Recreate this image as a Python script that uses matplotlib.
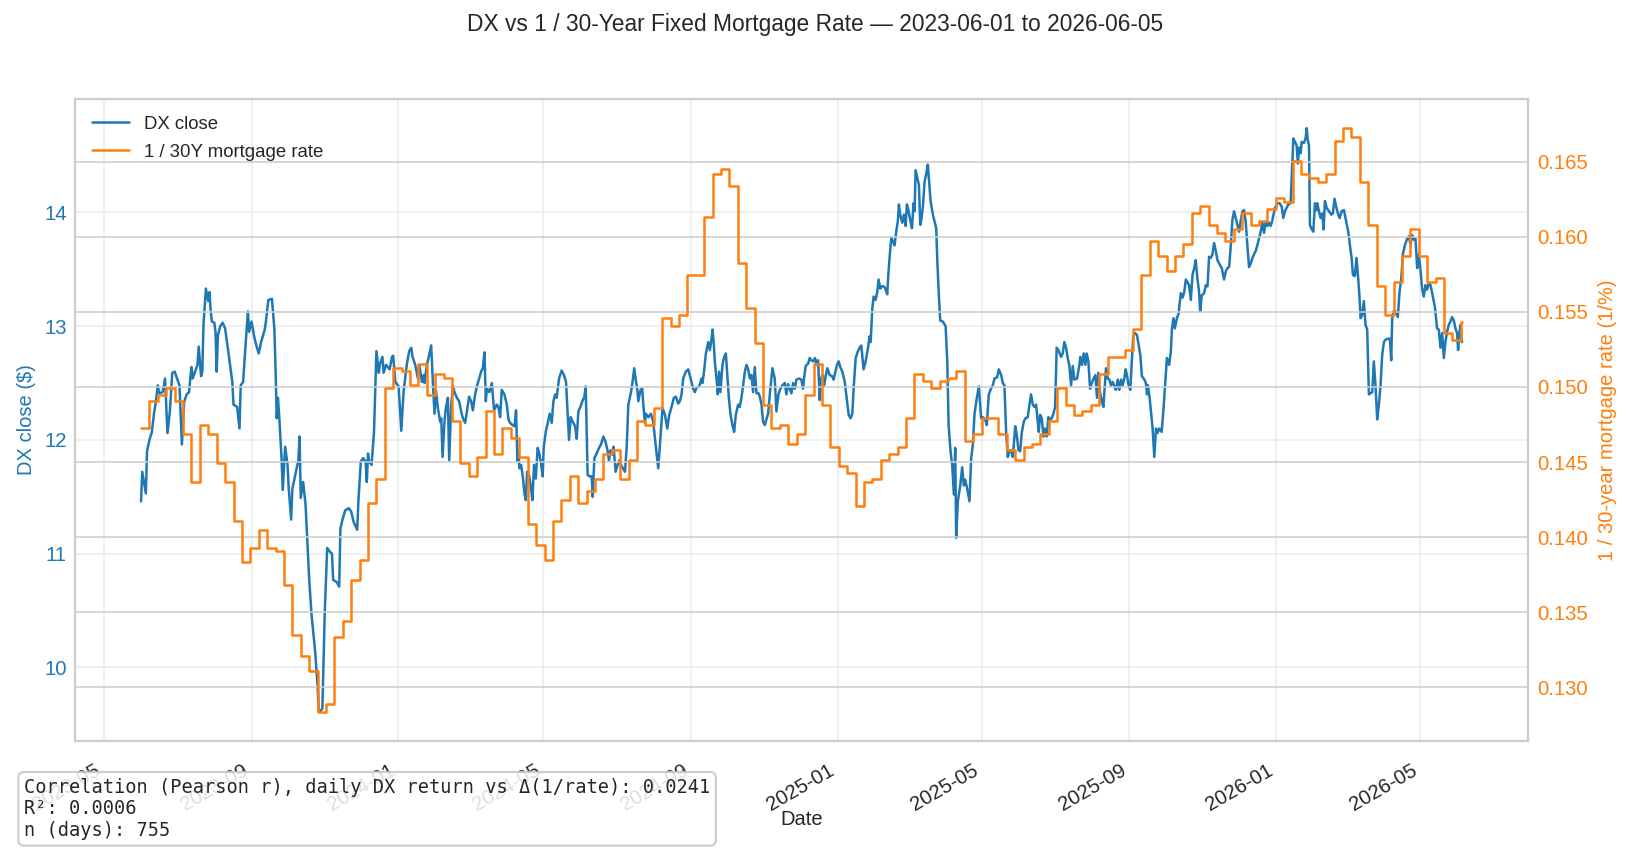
import numpy as np
import pandas as pd
import matplotlib
matplotlib.use("Agg")
import matplotlib.pyplot as plt
import matplotlib.dates as mdates
from matplotlib.ticker import MultipleLocator, FormatStrFormatter
import seaborn as sns

sns.set_theme(style="whitegrid")
plt.rcParams["font.family"] = ["Liberation Sans", "DejaVu Sans"]

START = pd.Timestamp("2023-06-01")
END = pd.Timestamp("2026-06-05")

# ---- DX close: (calendar days since 2023-06-01, close $) ----
dx_seg_a = [
    (0, 11.46), (1, 11.72), (4, 11.53), (5, 11.90), (7, 12.00), (9, 12.07), (11, 12.25), (12, 12.31), (14, 12.48), (15, 12.41),
    (18, 12.42), (20, 12.54), (22, 12.06), (24, 12.25), (26, 12.59), (28, 12.60), (30, 12.54), (32, 12.48), (34, 11.96), (36, 12.34),
    (38, 12.40), (40, 12.42), (41, 12.54), (42, 12.64), (43, 12.54), (45, 12.60), (47, 12.66), (48, 12.82), (50, 12.56), (51, 12.60),
    (52, 13.01), (54, 13.33), (56, 13.22), (57, 13.30), (58, 13.13), (59, 13.04), (61, 13.03), (62, 12.95), (63, 12.60), (64, 12.92),
    (66, 13.00), (68, 13.03), (70, 12.98), (73, 12.75), (76, 12.51), (77, 12.31), (80, 12.29), (82, 12.10), (83, 12.48), (85, 12.51),
    (87, 12.83), (89, 13.13), (90, 12.95), (92, 13.04), (94, 12.92), (96, 12.83), (98, 12.76), (100, 12.86), (103, 12.97), (104, 13.04),
    (106, 13.23), (109, 13.24), (111, 12.98), (112, 12.63), (113, 12.19), (114, 12.37), (115, 12.22), (117, 11.84), (118, 11.56), (120, 11.94),
    (122, 11.78), (123, 11.57), (125, 11.30), (126, 11.57), (129, 11.72), (131, 11.82), (132, 12.03), (133, 11.49), (135, 11.63), (137, 11.43),
    (140, 10.78), (142, 10.46), (145, 10.14), (147, 9.84), (148, 9.61), (149, 9.61), (151, 9.64), (153, 10.49), (155, 11.05), (157, 11.02),
    (159, 11.00), (160, 10.77), (163, 10.75), (165, 10.71), (166, 11.22), (168, 11.31), (170, 11.38), (173, 11.40), (175, 11.37), (177, 11.28),
    (180, 11.21), (181, 11.46), (183, 11.81), (185, 11.84), (187, 11.81), (188, 11.63), (189, 11.88), (190, 11.81), (192, 11.78), (194, 12.07),
    (196, 12.78), (198, 12.59), (199, 12.67), (201, 12.73), (202, 12.59), (204, 12.66), (207, 12.62), (209, 12.73), (210, 12.74),
]
dx_seg_b = [
    (211.7, 12.51), (214.5, 12.47), (216.7, 12.08), (218.6, 12.42), (221.4, 12.67), (223.3, 12.78), (225.0, 12.81), (226.1, 12.73), (228.3, 12.66), (230.6, 12.54),
    (231.7, 12.66), (233.9, 12.51), (235.3, 12.57), (236.1, 12.50), (238.0, 12.66), (239.4, 12.72), (241.6, 12.83), (243.0, 12.51), (244.4, 12.23), (245.5, 12.44),
    (247.2, 12.28), (249.1, 12.16), (250.0, 12.19), (251.1, 11.85), (252.7, 12.16), (253.8, 12.28), (255.5, 12.37), (256.6, 11.82), (258.3, 12.31), (259.7, 12.48),
    (261.0, 12.42), (263.0, 12.37), (264.9, 12.34), (266.6, 12.25), (268.0, 12.19), (269.9, 12.15), (271.3, 12.25), (273.2, 12.38), (274.9, 12.34), (276.3, 12.26),
    (278.2, 12.40), (279.9, 12.48), (281.6, 12.54), (283.2, 12.60), (284.6, 12.63), (286.0, 12.77), (287.1, 12.34), (288.0, 12.45), (290.1, 12.42), (292.1, 12.50),
    (294.0, 12.26), (296.2, 12.31), (297.6, 12.29), (299.0, 12.20), (300.4, 12.44), (302.6, 12.40), (304.6, 12.31), (306.0, 12.18), (307.3, 12.15), (309.3, 12.13),
    (311.0, 12.12), (312.3, 12.26), (313.4, 11.81), (314.3, 11.91), (315.1, 11.75), (316.5, 11.78), (317.9, 11.68), (319.3, 11.53), (320.4, 11.47), (321.5, 11.72),
    (323.1, 11.69), (324.5, 11.60), (325.9, 11.47), (327.3, 11.78), (328.7, 11.66), (330.3, 11.93), (331.7, 11.88), (333.1, 11.79), (334.5, 11.68), (335.3, 11.93),
    (337.0, 12.07), (338.7, 12.15), (340.3, 12.23), (342.0, 12.15), (343.4, 12.34), (344.8, 12.40), (346.1, 12.37), (348.1, 12.54), (350.3, 12.61), (352.2, 12.57),
    (353.9, 12.51), (355.3, 12.22), (356.4, 12.00), (357.8, 12.20), (359.5, 12.16), (361.4, 12.12), (362.8, 12.01), (364.2, 12.25), (365.8, 12.29), (367.5, 12.34),
    (369.2, 12.38), (370.3, 12.47), (371.1, 12.07), (371.9, 11.69), (373.9, 11.68), (375.3, 11.68), (376.1, 11.50), (377.5, 11.84), (379.4, 11.88), (381.4, 11.93),
    (383.0, 11.96), (385.0, 12.03), (386.9, 11.98), (388.6, 11.90), (389.7, 11.82), (391.1, 11.91), (392.4, 11.87), (393.5, 11.94), (395.2, 11.72), (396.9, 11.78),
    (398.3, 11.82), (399.6, 11.78), (400.8, 11.76), (403.0, 11.72), (404.4, 11.93), (405.8, 12.31), (408.0, 12.42), (409.3, 12.51), (410.7, 12.63), (411.8, 12.54),
    (413.2, 12.45), (414.1, 12.34), (416.0, 12.44), (417.4, 12.45), (418.2, 12.32), (419.6, 12.15), (420.4, 12.23), (422.4, 12.20), (424.6, 12.23), (426.5, 12.16),
    (428.5, 11.96), (430.7, 11.75),
]
dx_seg_c = [
    (434.3, 12.28), (436.3, 12.22), (438.2, 12.10), (439.9, 12.22), (441.8, 12.29), (443.7, 12.37), (445.4, 12.38), (447.3, 12.32), (448.7, 12.34), (450.1, 12.40),
    (451.5, 12.54), (453.7, 12.60), (455.7, 12.62), (457.6, 12.54), (459.8, 12.45), (461.2, 12.42), (462.6, 12.46), (464.8, 12.47), (466.8, 12.54), (467.6, 12.50),
    (468.7, 12.59), (470.4, 12.76), (472.3, 12.86), (473.7, 12.79), (475.1, 12.89), (475.9, 12.97), (477.0, 12.84), (477.8, 12.69), (479.2, 12.54), (480.3, 12.40),
    (481.4, 12.60), (482.5, 12.42), (484.2, 12.66), (485.3, 12.72), (487.0, 12.76), (488.4, 12.54), (489.5, 12.37), (490.9, 12.22), (492.5, 12.13), (493.9, 12.07),
    (495.3, 12.22), (497.2, 12.31), (498.6, 12.29), (500.0, 12.37), (501.4, 12.48), (502.8, 12.60), (504.2, 12.66), (505.6, 12.62), (507.0, 12.54), (508.3, 12.57),
    (509.7, 12.42), (511.1, 12.64), (512.5, 12.41), (514.2, 12.41), (515.3, 12.38), (516.7, 12.31), (518.0, 12.16), (519.4, 12.13), (520.8, 12.18), (522.2, 12.23),
    (523.6, 12.40), (525.8, 12.63), (527.7, 12.54), (529.1, 12.25), (530.8, 12.40), (532.4, 12.45), (534.1, 12.48), (536.1, 12.50), (537.4, 12.40), (538.8, 12.49),
    (540.2, 12.45), (541.6, 12.41), (543.0, 12.50), (544.4, 12.45), (545.8, 12.53), (548.0, 12.54), (549.9, 12.53), (551.3, 12.45), (552.1, 12.54), (553.5, 12.65),
    (555.5, 12.67), (556.8, 12.72), (558.2, 12.70), (559.6, 12.69), (561.3, 12.72), (562.4, 12.66), (563.8, 12.70), (565.2, 12.35), (566.0, 12.53), (567.4, 12.57),
    (568.8, 12.48), (570.1, 12.56), (571.5, 12.63), (573.5, 12.57), (575.4, 12.56), (576.8, 12.53), (578.2, 12.60), (579.6, 12.66), (581.0, 12.69), (582.3, 12.64),
    (584.0, 12.60), (586.0, 12.51), (587.9, 12.34), (589.3, 12.22), (590.9, 12.19), (592.3, 12.23), (593.4, 12.45), (595.1, 12.72), (597.0, 12.78), (598.4, 12.81),
    (599.8, 12.83), (601.7, 12.62), (603.4, 12.69), (605.4, 12.81), (606.7, 12.91), (607.6, 12.86), (609.0, 13.16), (610.1, 13.26), (611.7, 13.23), (613.1, 13.30),
    (614.2, 13.41), (615.6, 13.33), (616.7, 13.35), (618.4, 13.35), (619.8, 13.33), (621.4, 13.28), (622.3, 13.45), (623.4, 13.61), (624.8, 13.78), (626.2, 13.74),
    (627.5, 13.71), (628.9, 13.83), (630.3, 13.93), (631.1, 14.07), (632.2, 13.98), (633.9, 13.91), (635.3, 13.98), (636.7, 13.88), (637.8, 14.07), (639.2, 14.01),
    (640.6, 13.93), (642.0, 13.86), (643.3, 14.08), (644.2, 14.01), (645.0, 14.37), (646.1, 14.32), (647.8, 14.24), (648.9, 13.89), (650.0, 13.95), (651.1, 14.05),
    (652.5, 14.27), (653.9, 14.34), (655.2, 14.42),
]
dx_seg_d = [
    (657.5, 14.10), (659.4, 13.98), (662.2, 13.86), (663.0, 13.60), (664.1, 13.33), (665.5, 13.05), (667.7, 13.04), (670.0, 13.00), (671.4, 12.69), (672.5, 12.13),
    (674.1, 11.90), (675.5, 11.78), (676.9, 11.52), (678.0, 11.93), (678.8, 11.14), (680.2, 11.46), (682.2, 11.60), (683.8, 11.76), (685.2, 11.60), (686.3, 11.65),
    (688.0, 11.57), (689.9, 11.46), (691.3, 11.84), (692.7, 11.96), (694.1, 12.23), (696.0, 12.37), (697.7, 12.47), (699.6, 12.19), (701.0, 12.20), (703.0, 12.18),
    (704.3, 12.13), (706.0, 12.40), (707.4, 12.44), (709.3, 12.48), (710.7, 12.54), (712.9, 12.55), (714.3, 12.62), (716.3, 12.57), (717.6, 12.50), (719.0, 12.48),
    (720.4, 12.07), (721.8, 11.85), (723.2, 11.90), (724.6, 11.91), (726.0, 11.85), (728.0, 12.12), (729.3, 12.04), (730.7, 11.91), (732.1, 11.90), (733.4, 12.06),
    (735.1, 12.16), (736.5, 12.19), (738.4, 12.20), (739.8, 12.31), (741.2, 12.40), (742.6, 12.31), (744.0, 12.29), (745.4, 12.31), (746.7, 12.16), (747.6, 12.07),
    (748.7, 12.22), (750.1, 12.19), (751.5, 12.03), (752.8, 12.10), (754.2, 12.03), (755.6, 12.20), (757.3, 12.18), (758.4, 12.19), (759.8, 12.23), (761.2, 12.29),
    (762.5, 12.81), (763.9, 12.79), (766.2, 12.73), (767.5, 12.76), (768.9, 12.86), (770.3, 12.81), (771.7, 12.72), (773.1, 12.65), (774.5, 12.48), (775.9, 12.65),
    (777.2, 12.53), (779.5, 12.54), (781.4, 12.66), (782.2, 12.73), (783.6, 12.66), (785.0, 12.76), (786.4, 12.66), (787.5, 12.76), (788.9, 12.69), (790.3, 12.45),
    (791.7, 12.50), (793.3, 12.54), (794.7, 12.57), (796.1, 12.37), (797.2, 12.59), (798.6, 12.42), (800.0, 12.34), (801.4, 12.29), (802.2, 12.42), (803.6, 12.63),
    (805.0, 12.54), (806.4, 12.53), (807.7, 12.48), (809.1, 12.51), (810.5, 12.47), (811.9, 12.44), (813.3, 12.53), (814.7, 12.44), (816.1, 12.53), (817.4, 12.48),
    (818.8, 12.54), (819.9, 12.62), (821.0, 12.57), (822.4, 12.48), (823.8, 12.44), (824.9, 12.66), (826.3, 12.92), (827.7, 12.94), (829.4, 12.92), (830.7, 12.84),
    (832.1, 12.75), (833.5, 12.56), (835.5, 12.53), (836.8, 12.50), (837.7, 12.40), (838.5, 12.48), (839.9, 12.37), (841.0, 12.25), (842.4, 12.10), (843.8, 11.85),
    (845.2, 12.10), (846.5, 12.06), (847.9, 12.10), (849.9, 12.07), (851.3, 12.25), (852.6, 12.45), (854.3, 12.72), (856.2, 12.66), (857.6, 12.78), (858.5, 12.98),
    (859.8, 13.07), (860.9, 12.98), (862.6, 13.07), (864.0, 13.11), (865.9, 13.29), (867.3, 13.25), (868.7, 13.30), (870.1, 13.41),
]
dx_seg_e = [
    (872.8, 13.36), (874.2, 13.23), (875.6, 13.45), (877.0, 13.51), (878.3, 13.58), (879.7, 13.42), (881.1, 13.30), (882.0, 13.13), (883.3, 13.27), (885.3, 13.29),
    (886.7, 13.36), (888.1, 13.35), (889.4, 13.61), (890.8, 13.60), (892.2, 13.63), (893.6, 13.73), (895.0, 13.66), (896.4, 13.58), (898.3, 13.54), (900.0, 13.51),
    (901.9, 13.41), (903.3, 13.48), (904.7, 13.51), (906.1, 13.52), (907.5, 13.71), (908.8, 13.93), (910.2, 14.01), (911.6, 13.95), (913.0, 13.89), (914.4, 13.83),
    (915.8, 13.93), (917.2, 14.01), (918.5, 14.02), (919.9, 13.92), (921.3, 13.71), (922.7, 13.52), (924.1, 13.55), (925.5, 13.60), (926.9, 13.63), (928.2, 13.66),
    (929.6, 13.71), (931.0, 13.77), (932.4, 13.83), (933.8, 13.91), (935.2, 13.82), (936.6, 13.92), (938.0, 13.88), (939.3, 13.91), (940.7, 13.88), (942.1, 13.93),
    (944.3, 14.04), (946.3, 14.08), (948.2, 14.08), (949.9, 14.05), (951.2, 13.95), (952.6, 14.01), (954.0, 14.04), (955.4, 14.07), (957.3, 14.08), (958.7, 14.42),
    (959.6, 14.65), (960.9, 14.62), (962.3, 14.59), (963.4, 14.43), (964.3, 14.57), (965.7, 14.52), (966.5, 14.62), (968.4, 14.61), (969.8, 14.65), (970.7, 14.74),
    (971.5, 14.64), (972.6, 14.59), (973.4, 13.89), (974.5, 13.86), (976.2, 13.83), (977.6, 14.08), (978.7, 14.02), (979.5, 14.08), (980.9, 14.01), (982.3, 13.95),
    (983.7, 13.99), (984.8, 13.85), (985.9, 14.10), (987.3, 14.04), (989.2, 14.01), (991.2, 13.98), (992.5, 13.99), (993.9, 14.12), (995.3, 14.05), (996.7, 13.99),
    (998.1, 13.95), (999.8, 14.01), (1001.7, 14.02), (1003.6, 13.92), (1005.3, 13.83), (1006.7, 13.71), (1008.1, 13.60), (1009.2, 13.45), (1010.8, 13.44), (1012.2, 13.60),
    (1013.6, 13.42), (1014.7, 13.25), (1015.6, 13.07), (1017.0, 13.10), (1018.3, 13.22), (1019.7, 13.01), (1021.1, 12.97), (1022.5, 12.40), (1023.9, 12.41), (1025.3, 12.42),
    (1026.6, 12.69), (1028.0, 12.48), (1029.4, 12.18), (1030.8, 12.31), (1032.2, 12.48), (1033.6, 12.75), (1035.0, 12.86), (1036.3, 12.88), (1038.6, 12.89), (1040.0, 12.89),
    (1041.1, 12.70), (1041.9, 13.07), (1043.0, 13.13), (1044.7, 13.13), (1046.6, 13.08), (1048.0, 13.30), (1049.4, 13.41), (1050.8, 13.63), (1052.4, 13.71), (1054.4, 13.77),
    (1055.8, 13.79), (1057.2, 13.71), (1058.5, 13.80), (1059.9, 13.76), (1061.3, 13.77), (1062.7, 13.51), (1064.1, 13.63), (1065.5, 13.49), (1066.8, 13.33), (1068.2, 13.26),
    (1069.6, 13.36), (1071.0, 13.32), (1072.4, 13.38), (1073.8, 13.36), (1075.2, 13.29), (1077.4, 13.17), (1079.3, 12.98), (1080.7, 12.97), (1082.1, 12.81), (1083.5, 12.94),
    (1084.9, 12.72), (1086.2, 12.86), (1087.6, 12.95), (1089.0, 13.01), (1090.4, 13.04), (1091.8, 13.08), (1093.2, 13.05), (1094.6, 12.98), (1095.9, 12.94), (1096.8, 12.79),
    (1097.9, 12.94), (1098.7, 13.01), (1100.0, 12.86),
]

# ---- 30-year fixed mortgage rate (%), weekly from 2023-06-01 ----
rate_2023 = [6.79, 6.71, 6.69, 6.67, 6.71, 6.81, 6.96, 6.78, 6.81, 6.90, 6.96, 7.09, 7.23, 7.18, 7.12, 7.18,
             7.19, 7.31, 7.49, 7.57, 7.63, 7.79, 7.76, 7.50, 7.44, 7.29, 7.22, 7.03, 6.95, 6.67, 6.61]
rate_2024 = [6.62, 6.66, 6.60, 6.69, 6.63, 6.64, 6.77, 6.90, 6.94, 6.88, 6.74, 6.87, 6.79, 6.82, 6.88, 7.10,
             7.17, 7.22, 7.09, 7.02, 6.94, 7.03, 6.99, 6.95, 6.87, 6.86, 6.95, 6.89, 6.77, 6.78, 6.73, 6.47,
             6.49, 6.46, 6.35, 6.35, 6.20, 6.09, 6.08, 6.12, 6.32, 6.44, 6.54, 6.72, 6.79, 6.78, 6.84, 6.81,
             6.69, 6.60, 6.72, 6.85]
rate_2025 = [6.91, 6.93, 7.04, 6.96, 6.95, 6.89, 6.87, 6.85, 6.76, 6.63, 6.65, 6.67, 6.65, 6.64, 6.62, 6.83,
             6.81, 6.76, 6.76, 6.81, 6.86, 6.89, 6.85, 6.84, 6.81, 6.77, 6.67, 6.72, 6.75, 6.74, 6.72, 6.63,
             6.58, 6.58, 6.56, 6.50, 6.35, 6.26, 6.30, 6.34, 6.30, 6.27, 6.19, 6.17, 6.22, 6.24, 6.26, 6.23,
             6.19, 6.22, 6.21, 6.18]
rate_2026 = [6.15, 6.16, 6.06, 6.09, 6.10, 6.11, 6.09, 6.01, 5.98, 6.00, 6.11, 6.22, 6.38, 6.46, 6.37, 6.30,
             6.23, 6.30, 6.37, 6.36, 6.51, 6.53, 6.48]

stats_r = "0.0241"
stats_r2 = "0.0006"
stats_n = "755"

BLUE = "#1f77b4"
ORANGE = "#ff7f0e"

dx_pts = dx_seg_a + dx_seg_b + dx_seg_c + dx_seg_d + dx_seg_e
dx_day = np.array([p[0] for p in dx_pts], dtype=float)
dx_close = np.array([p[1] for p in dx_pts], dtype=float)
dx_dates = START + pd.to_timedelta(dx_day, unit="D")

rates = np.array(rate_2023 + rate_2024 + rate_2025 + rate_2026)
rate_dates = pd.date_range(START, periods=len(rates), freq="7D")
inv_rate = 1.0 / rates
step_x = list(rate_dates) + [END]
step_y = list(inv_rate) + [inv_rate[-1]]

W, H = 1631, 855
fig = plt.figure(figsize=(W / 100, H / 100), dpi=100)
L, R, T, B = 75, 1528, 99, 741
ax1 = fig.add_axes([L / W, 1 - B / H, (R - L) / W, (B - T) / H])
ax2 = ax1.twinx()

l1, = ax1.plot(dx_dates, dx_close, color=BLUE, lw=1.8, label="DX close")
l2, = ax2.step(step_x, step_y, where="post", color=ORANGE, lw=1.8, label="1 / 30Y mortgage rate")

# grids
ax1.grid(True, color="#ebebeb", lw=1.1)
ax2.grid(True, axis="y", color="#cccccc", lw=1.1)
ax1.set_axisbelow(True)

for ax in (ax1, ax2):
    for s in ax.spines.values():
        s.set_color("#cccccc")
        s.set_linewidth(1.5)

ax1.xaxis.set_major_locator(mdates.MonthLocator(bymonth=[1, 5, 9]))
ax1.xaxis.set_major_formatter(mdates.DateFormatter("%Y-%m"))
ax1.yaxis.set_major_locator(MultipleLocator(1))
ax2.yaxis.set_major_locator(MultipleLocator(0.005))
ax2.yaxis.set_major_formatter(FormatStrFormatter("%.3f"))

ax1.tick_params(axis="y", colors=BLUE, labelsize=14.6, pad=6, length=0)
ax2.tick_params(axis="y", colors=ORANGE, labelsize=14.6, pad=6.5, length=0)
ax1.tick_params(axis="x", labelsize=14.6, labelcolor="#262626", pad=14, length=0)
for lab in ax1.get_xticklabels():
    lab.set_rotation(30)
    lab.set_ha("right")

ax1.set_xlabel("Date", fontsize=14.5, color="#262626")
ax1.xaxis.set_label_coords(0.5, -0.108)
ax1.set_ylabel("DX close ($)", fontsize=14.5, color=BLUE)
ax1.yaxis.set_label_coords(-0.027, 0.5)
ax2.set_ylabel("1 / 30-year mortgage rate (1/%)", fontsize=14.5, color=ORANGE)
ax2.yaxis.set_label_coords(1.048, 0.5)

ax1.legend([l1, l2], [l1.get_label(), l2.get_label()], loc="upper left",
           frameon=False, fontsize=13.4, labelspacing=0.58)

fig.text(0.5, 1 - 25 / H, "DX vs 1 / 30-Year Fixed Mortgage Rate \u2014 2023-06-01 to 2026-06-05",
         ha="center", va="center", fontsize=16.4, color="#262626")

stats_txt = ("Correlation (Pearson r), daily DX return vs \u0394(1/rate): " + stats_r + "\n"
             "R\u00b2: " + stats_r2 + "\n"
             "n (days): " + stats_n)
fig.text(24 / W, 15 / H, stats_txt, family=["DejaVu Sans Mono"], fontsize=13.45,
         ha="left", va="bottom", color="#262626", linespacing=1.18,
         bbox=dict(boxstyle="round,pad=0.3", fc="white", ec="#c4c4c4", lw=1.5, alpha=0.85))

fig.savefig("out.png", dpi=100)
